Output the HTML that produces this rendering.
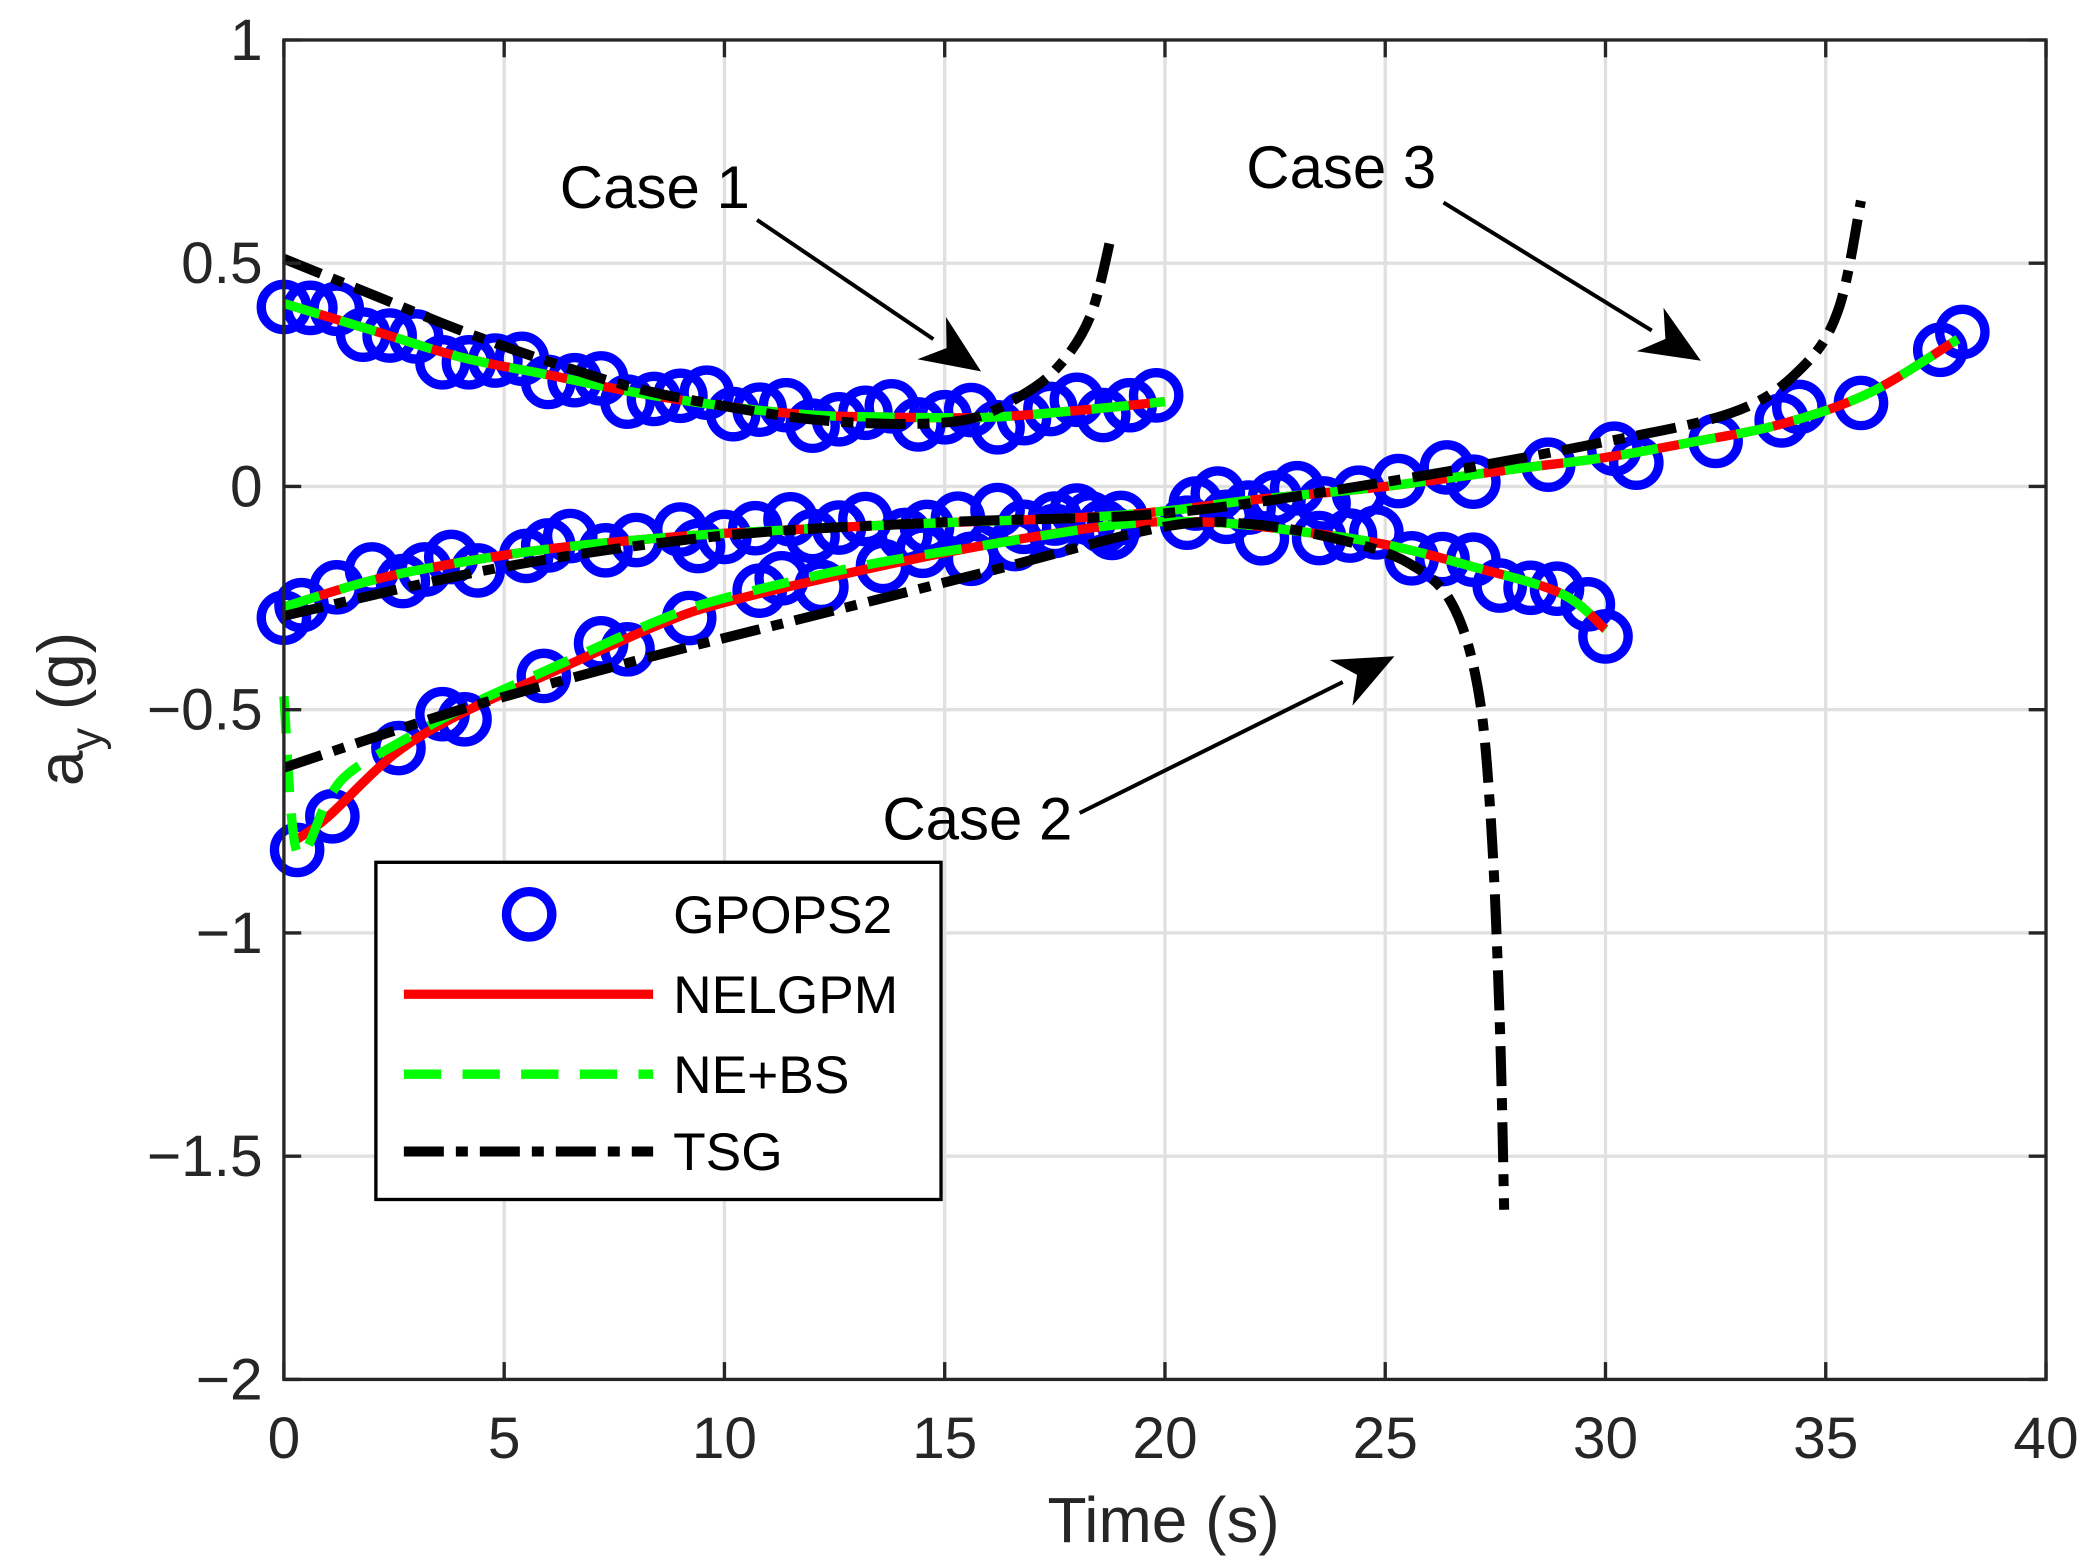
<!DOCTYPE html>
<html><head><meta charset="utf-8"><style>html,body{margin:0;padding:0;background:#fff}svg{display:block}</style></head>
<body>
<svg id="s" width="2090" height="1566" viewBox="0 0 1568 1175" preserveAspectRatio="none" xmlns="http://www.w3.org/2000/svg" font-family="Liberation Sans, sans-serif">
<g id="grid" stroke="#e0e0e0" stroke-width="2.5"></g>
<g id="data"></g>
<rect x="213" y="30" width="1322" height="1005" fill="none" stroke="#262626" stroke-width="2.5"/>
<g id="ticks" stroke="#262626" stroke-width="2.5"></g>
<g id="labels" font-size="44" fill="#262626"></g>
<text x="873" y="1157" font-size="48" text-anchor="middle" fill="#262626">Time (s)</text>
<g transform="translate(62,532) rotate(-90)" fill="#262626"><text x="0" y="0" font-size="48" text-anchor="middle">a<tspan font-size="34" dy="14">y</tspan><tspan dy="-14"> (g)</tspan></text></g>
<g font-size="45" fill="#000">
<text x="420" y="156">Case 1</text>
<text x="935" y="141">Case 3</text>
<text x="662" y="630">Case 2</text>
</g>
<g id="arrows" stroke="#000" stroke-width="3" fill="#000"></g>
<g>
<rect x="282" y="647" width="424" height="253" fill="#fff" stroke="#000" stroke-width="2.5"/>
<circle cx="397" cy="686" r="17" fill="none" stroke="#0000ff" stroke-width="7"/>
<line x1="303" y1="746" x2="490" y2="746" stroke="#ff0000" stroke-width="7"/>
<line x1="303" y1="806" x2="490" y2="806" stroke="#00ff00" stroke-width="7" stroke-dasharray="28,16"/>
<line x1="303" y1="864" x2="490" y2="864" stroke="#000" stroke-width="7.5" stroke-dasharray="30,9,9,9"/>
<g font-size="40" fill="#000">
<text x="505" y="700">GPOPS2</text>
<text x="505" y="760">NELGPM</text>
<text x="505" y="820">NE+BS</text>
<text x="505" y="878">TSG</text>
</g>
</g>
</svg>
<script>
const NS="http://www.w3.org/2000/svg";
const X=t=>213+t*33.05, Y=v=>30+(1-v)*335;
function el(p,n,a){const e=document.createElementNS(NS,n);for(const k in a)e.setAttribute(k,a[k]);document.getElementById(p).appendChild(e);return e;}
for(let t=5;t<40;t+=5){el('grid','line',{x1:X(t),y1:30,x2:X(t),y2:1035});}
for(let v=-1.5;v<1;v+=0.5){el('grid','line',{x1:213,y1:Y(v),x2:1535,y2:Y(v)});}
for(let t=0;t<=40;t+=5){el('ticks','line',{x1:X(t),y1:1035,x2:X(t),y2:1022});el('ticks','line',{x1:X(t),y1:30,x2:X(t),y2:43});
 const tx=el('labels','text',{x:X(t),y:1094,'text-anchor':'middle'});tx.textContent=t;}
const yl={1:'1',0.5:'0.5',0:'0','-0.5':'\u22120.5','-1':'\u22121','-1.5':'\u22121.5','-2':'\u22122'};
for(let v=-2;v<=1;v+=0.5){el('ticks','line',{x1:213,y1:Y(v),x2:226,y2:Y(v)});el('ticks','line',{x1:1535,y1:Y(v),x2:1522,y2:Y(v)});
 const tx=el('labels','text',{x:197,y:Y(v)+15,'text-anchor':'end'});tx.textContent=yl[String(v)];}
function path(pts){const P=pts.map(p=>[X(p[0]),Y(p[1])]);let d='M'+P[0][0]+','+P[0][1];
 for(let i=0;i<P.length-1;i++){const p0=P[i-1]||P[i],p1=P[i],p2=P[i+1],p3=P[i+2]||p2;
 d+=' C'+(p1[0]+(p2[0]-p0[0])/6)+','+(p1[1]+(p2[1]-p0[1])/6)+' '+(p2[0]-(p3[0]-p1[0])/6)+','+(p2[1]-(p3[1]-p1[1])/6)+' '+p2[0]+','+p2[1];}return d;}
function interp(pts,t){for(let i=0;i<pts.length-1;i++){if(t<=pts[i+1][0]){const a=pts[i],b=pts[i+1];return a[1]+(b[1]-a[1])*(t-a[0])/(b[0]-a[0]);}}return pts[pts.length-1][1];}
const c1=[[0,.41],[2,.35],[4,.29],[6,.25],[8,.21],[10,.18],[12,.16],[14,.155],[16,.155],[18,.17],[20,.19]];
const c3=[[0,-.27],[2,-.21],[4,-.17],[6,-.14],[8,-.12],[10,-.105],[14,-.085],[18,-.07],[20,-.055],[22,-.03],[25,0],[28,.04],[30,.065],[32,.1],[34,.14],[36,.21],[38,.33]];
const c2=[[0.3,-.79],[1,-.74],[2.5,-.6],[4,-.51],[6,-.42],[8.5,-.31],[10,-.26],[13,-.19],[16,-.13],[19,-.085],[21,-.08],[23,-.1],[25,-.13],[27,-.18],[29,-.24],[30,-.32]];
const t1=[[0,.51],[2,.43],[4,.35],[6,.28],[8,.22],[10,.18],[12,.15],[14,.14],[15.5,.15],[16.5,.19],[17.5,.26],[18.3,.38],[18.8,.57]];
const t3=[[0,-.29],[5,-.18],[10,-.11],[15,-.08],[20,-.06],[25,.01],[30,.1],[33,.17],[34.5,.27],[35.3,.4],[35.8,.64]];
const t2=[[0,-.63],[4,-.5],[8,-.39],[12,-.29],[16,-.19],[20,-.09],[22,-.085],[24,-.12],[25.5,-.17],[26.5,-.26],[27.1,-.45],[27.4,-.75],[27.6,-1.2],[27.7,-1.62]];
let k=0;
function circ(pts,ts){ts.forEach(t=>{k++;const n=((k*37)%7-3)*0.008;el('data','circle',{cx:X(t),cy:Y(interp(pts,t)+n),r:17,fill:'none',stroke:'#0000ff','stroke-width':7});});}
let a=[];for(let t=0;t<=20;t+=0.6)a.push(t);circ(c1,a);
a=[0,0.4,1.2,2,2.7,3.2,3.8,4.4,5.5,6,6.5,7.3,8,9,9.4,10,10.7,11.5,12,12.6,13.2,14.1,14.6,15.3,16.2,16.8,17.5,18,18.6,19,20.7,21.2,21.9,22.5,23,23.6,24.4,25.3,26.4,27,28.7,30.2,30.7,32.5,34,34.4,35.8,37.6,38.1];circ(c3,a);
a=[0.3,1.1,2.6,3.6,4.1,5.9,7.2,7.8,9.2,10.8,11.3,12.2,13.6,14.5,15.6,16.6,17.5,18.3,18.8,20.5,21.4,22.2,23.5,24.2,24.8,25.6,26.3,27,27.6,28.3,28.9,29.6,30];circ(c2,a);
[c1,c3,c2].forEach(p=>el('data','path',{d:path(p),fill:'none',stroke:'#ff0000','stroke-width':7}));
el('data','path',{d:path(c1),fill:'none',stroke:'#00ff00','stroke-width':7,'stroke-dasharray':'28,16'});
el('data','path',{d:path(c3),fill:'none',stroke:'#00ff00','stroke-width':7,'stroke-dasharray':'28,16'});
el('data','path',{d:path([[0,-.47],[0.3,-.82],[1,-.7],[1.5,-.64],[2.5,-.58],[4,-.5],[6,-.41],[8.5,-.3],[10,-.25],[13,-.18],[16,-.13],[19,-.085],[21,-.08],[23,-.1],[25,-.13],[27,-.18],[29,-.24],[30,-.32]]),fill:'none',stroke:'#00ff00','stroke-width':7,'stroke-dasharray':'28,16'});
[t1,t3,t2].forEach(p=>el('data','path',{d:path(p),fill:'none',stroke:'#000','stroke-width':7.5,'stroke-dasharray':'30,9,9,9'}));
function arrow(x1,y1,x2,y2){const ang=Math.atan2(y2-y1,x2-x1),L=42,W=18;const bx=x2-L*Math.cos(ang),by=y2-L*Math.sin(ang);
 el('arrows','line',{x1:x1,y1:y1,x2:bx,y2:by});
 const px=-Math.sin(ang)*W,py=Math.cos(ang)*W,mx=x2-L*0.7*Math.cos(ang),my=y2-L*0.7*Math.sin(ang);
 el('arrows','path',{d:`M${x2},${y2} L${bx+px},${by+py} L${mx},${my} L${bx-px},${by-py} Z`,'stroke-width':1});}
arrow(568,165,735,278);arrow(1083,152,1275,270);arrow(810,610,1045,493);
</script>
</body></html>
